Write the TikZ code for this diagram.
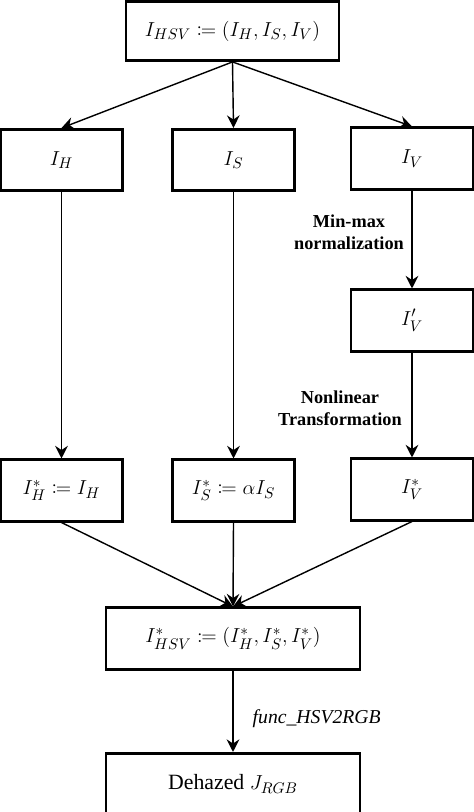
\documentclass[tikz,border=0pt]{standalone}
\usepackage{mathtools}
\usepackage{fontspec}
\setmainfont{Liberation Serif}
\usetikzlibrary{arrows.meta}
\begin{document}
\begin{tikzpicture}[x=0.025cm, y=-0.025cm, >={Stealth[length=9pt, width=9pt, inset=3pt]},
    block/.style={draw, line width=2pt, inner sep=0pt, minimum width=3.05cm, minimum height=1.53cm, font=\fontsize{15.5}{19}\selectfont},
    note/.style={font=\bfseries\fontsize{13}{15.6}\selectfont, align=center, inner sep=0pt}]
                \useasboundingbox (0,0) rectangle (474,812);

                % Input and the three channels
                \node[block, minimum width=5.325cm, minimum height=1.475cm] (hsv) at (232.5,31) {$I_{HSV} \coloneqq (I_H, I_S, I_V)$};
                \node[block] (ih) at (61.5,160) {$I_H$};
                \node[block] (is) at (233.5,160) {$I_S$};
                \node[block] (iv) at (412,158.5) {$I_V$};

                % V channel processing
                \node[block] (ivn) at (412,320.5) {$I_V'$};

                \node[block] (ihs) at (61.5,490.5) {$I_H^* \coloneqq I_H$};
                \node[block] (iss) at (233.5,490.5) {$I_S^* \coloneqq \alpha I_S$};
                \node[block] (ivs) at (412,489.5) {$I_V^*$};

                % Recombined and output
                \node[block, minimum width=6.35cm] (hsvs) at (233,638.5) {$I_{HSV}^* \coloneqq (I_H^*, I_S^*, I_V^*)$};
                \node[block, minimum width=6.35cm] (out) at (233,784) {Dehazed $J_{RGB}$};

                \node[note] (mm) at (349,232) {Min-max\\normalization};
                \node[note] (nl) at (340,408) {Nonlinear\\Transformation};

                \draw[->, line width=1pt] (hsv.south) -- (ih.north);
                \draw[->, line width=1pt] (hsv.south) -- (is.north);
                \draw[->, line width=1pt] (hsv.south) -- (iv.north);

                \draw[->, line width=1pt] (ih) -- (ihs);
                \draw[->, line width=1pt] (is) -- (iss);
                \draw[->, line width=1pt] (iv) -- (ivn);
                \draw[->, line width=1pt] (ivn) -- (ivs);

                \draw[->, line width=1pt] (ihs.south) -- (hsvs.north);
                \draw[->, line width=1pt] (iss.south) -- (hsvs.north);
                \draw[->, line width=1pt] (ivs.south) -- (hsvs.north);

                \draw[->, line width=1pt] (hsvs) -- node[right=0.475cm, inner sep=0pt, yshift=-5pt, font=\itshape\fontsize{14}{17}\selectfont] {func\_HSV2RGB} (out);
            \end{tikzpicture}
\end{document}
